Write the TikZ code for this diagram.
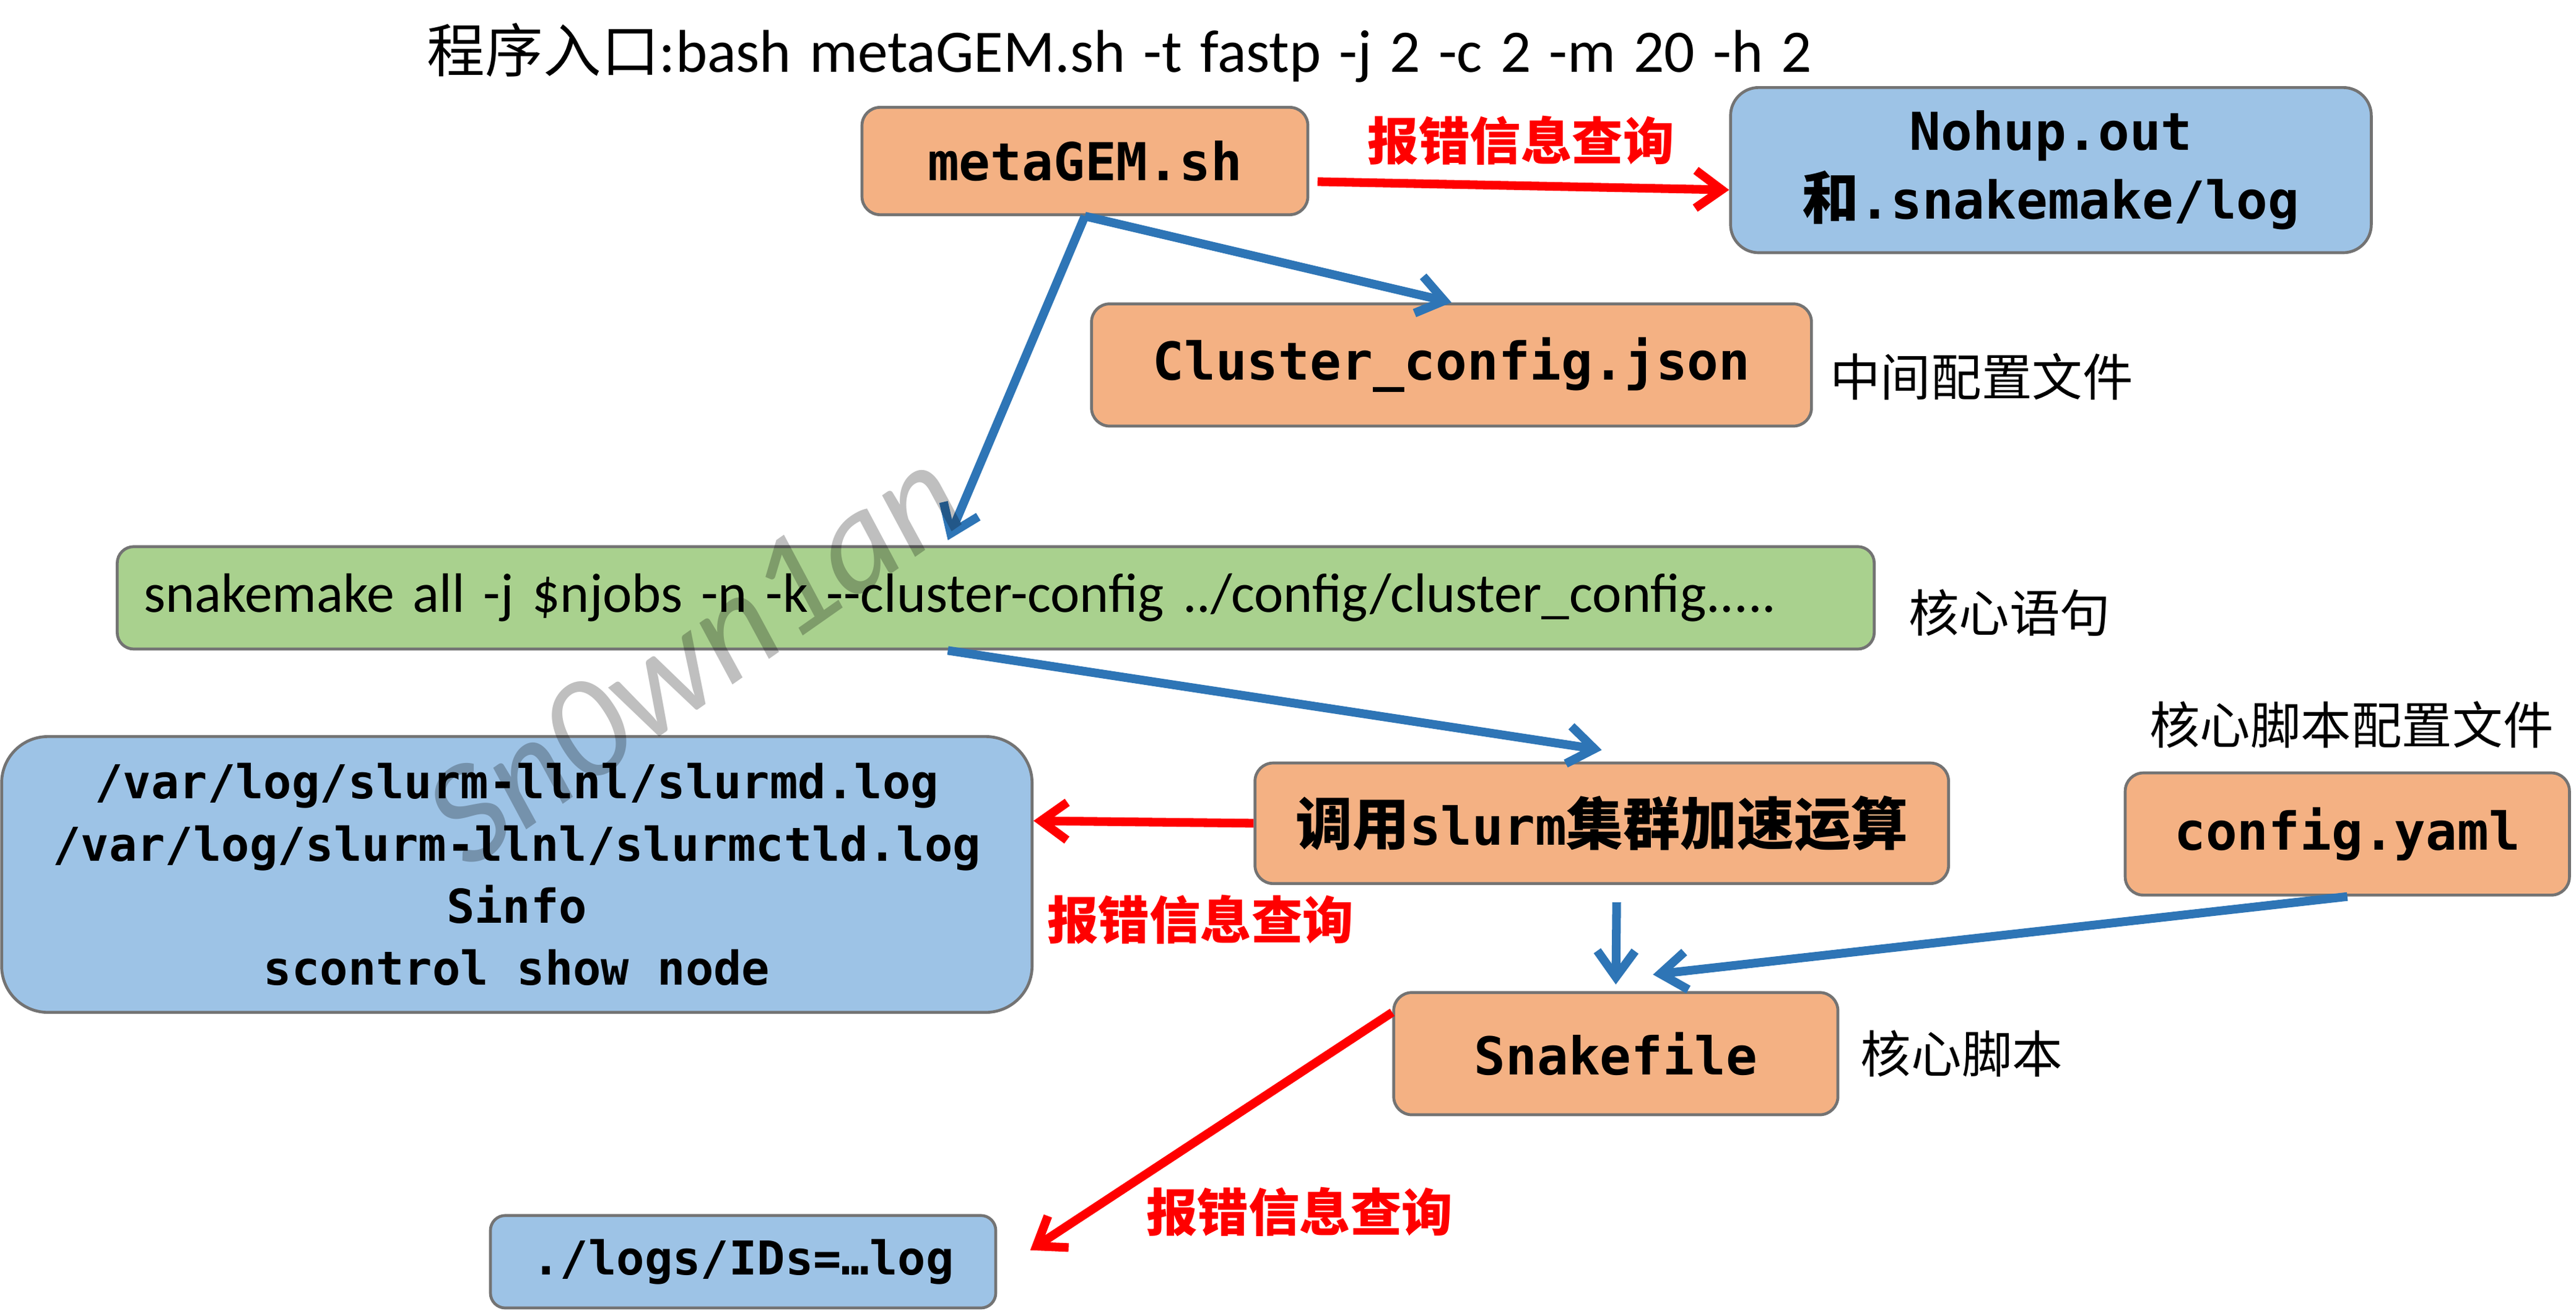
\documentclass[tikz,border=0pt]{standalone}
\usepackage{fontspec}
\usetikzlibrary{arrows.meta}
\setmainfont{Carlito}
\newfontfamily\cjk{Noto Sans CJK SC}
\newfontfamily\codefont{DejaVu Sans Mono}
\newcommand{\boxcn}[1]{{\fontsize{9.8}{11}\selectfont\cjk #1}}
\definecolor{boxorange}{HTML}{F4B183}
\definecolor{skyblue}{HTML}{9DC3E6}
\definecolor{leaf}{HTML}{A9D18E}
\definecolor{steel}{HTML}{2E75B6}
\begin{document}
\begin{tikzpicture}[
  box/.style={draw=black!55,line width=.5pt,align=center,inner sep=0pt,text=black,
    font=\fontsize{9}{11.8}\selectfont\codefont\bfseries},
  orangebox/.style={box,fill=boxorange,rounded corners=.11cm},
  bluebox/.style={box,fill=skyblue,rounded corners=.17cm},
  greenbox/.style={box,fill=leaf,rounded corners=.1cm,align=left,inner xsep=.16cm,text width=10.32cm,font=\fontsize{9.57}{11}\selectfont},
  smallcode/.style={font=\fontsize{8.05}{10.7}\selectfont\codefont\bfseries},
  note/.style={inner sep=0pt,font=\fontsize{8.7}{10}\selectfont\cjk},
  errnote/.style={note,text=red,font=\fontsize{8.8}{10}\selectfont\cjk\bfseries},
  bluearrow/.style={draw=steel,line width=1.5pt,-{Straight Barb[length=4.5pt,width=6.5pt]}},
  redarrow/.style={draw=red,line width=1.5pt,-{Straight Barb[length=4.5pt,width=6.5pt]}}]
\useasboundingbox (0,0) rectangle (15.6,-7.965);

\node[inner sep=0pt,font=\fontsize{10.4}{12}\selectfont] (entry) at (6.78,-.32) {\spaceskip=3.1pt\relax{\fontsize{10}{12}\selectfont\cjk 程序入口}:bash metaGEM.sh -t fastp -j 2 -c 2 -m 20 -h 2};
\node[orangebox,minimum width=2.7cm,minimum height=.65cm] (meta) at (6.57,-.975) {metaGEM.sh};
\node[bluebox,minimum width=3.88cm,minimum height=1cm] (nohup) at (12.42,-1.03) {Nohup.out\\\boxcn{和}.snakemake/log};
\node[orangebox,minimum width=4.36cm,minimum height=.74cm] (cluster) at (8.79,-2.21) {Cluster\_config.json};
\node[greenbox,minimum height=.62cm] (snake) at (6.03,-3.62) {snakemake all -j \$njobs -n -k -{}-cluster-config ../config/cluster\_config.....};
\node[bluebox,smallcode,rounded corners=.28cm,minimum width=6.24cm,minimum height=1.67cm] (varlog) at (3.13,-5.295) {/var/log/slurm-llnl/slurmd.log\\/var/log/slurm-llnl/slurmctld.log\\Sinfo\\scontrol show node};
\node[orangebox,minimum width=4.2cm,minimum height=.73cm] (slurm) at (9.7,-4.985) {\boxcn{调用}slurm\boxcn{集群加速运算}};
\node[orangebox,minimum width=2.69cm,minimum height=.74cm] (config) at (14.215,-5.05) {config.yaml};
\node[orangebox,minimum width=2.69cm,minimum height=.74cm] (snakefile) at (9.785,-6.38) {Snakefile};
\node[bluebox,smallcode,rounded corners=.09cm,minimum width=3.06cm,minimum height=.56cm] (logs) at (4.5,-7.64) {./logs/IDs=…log};

\node[errnote] (err1) at (9.21,-.85) {报错信息查询};
\node[note] (midnote) at (12,-2.28) {中间配置文件};
\node[note] (corenote) at (12.17,-3.71) {核心语句};
\node[note] (confnote) at (14.24,-4.39) {核心脚本配置文件};
\node[note] (filenote) at (11.88,-6.38) {核心脚本};
\node[errnote] (err2) at (7.27,-5.57) {报错信息查询};
\node[errnote] (err3) at (7.87,-7.34) {报错信息查询};

\draw[bluearrow] (meta.south) -- ([xshift=-.29cm,yshift=.03cm]snake.north);
\draw[bluearrow] (meta.south) -- (cluster.north);
\draw[redarrow] ([xshift=.05cm,yshift=-.125cm]meta.east) -- ([yshift=-.12cm]nohup.west);
\draw[bluearrow] ([xshift=-.29cm]snake.south) -- ([yshift=.07cm]slurm.north);
\draw[redarrow] (slurm.west) -- ([yshift=.325cm]varlog.east);
\draw[bluearrow] ([xshift=.09cm,yshift=-.105cm]slurm.south) -- ([yshift=.04cm]snakefile.north);
\draw[bluearrow] (config.south) -- ([xshift=.225cm,yshift=.1cm]snakefile.north);
\draw[redarrow] ([yshift=.25cm]snakefile.west) -- ([xshift=.2cm,yshift=.07cm]logs.east);

\node[rotate=35,text=black,opacity=.25,font=\fontsize{25}{30}\selectfont\itshape] (mark) at (4.2,-3.97) {Sn0wn1an};
\end{tikzpicture}
\end{document}
